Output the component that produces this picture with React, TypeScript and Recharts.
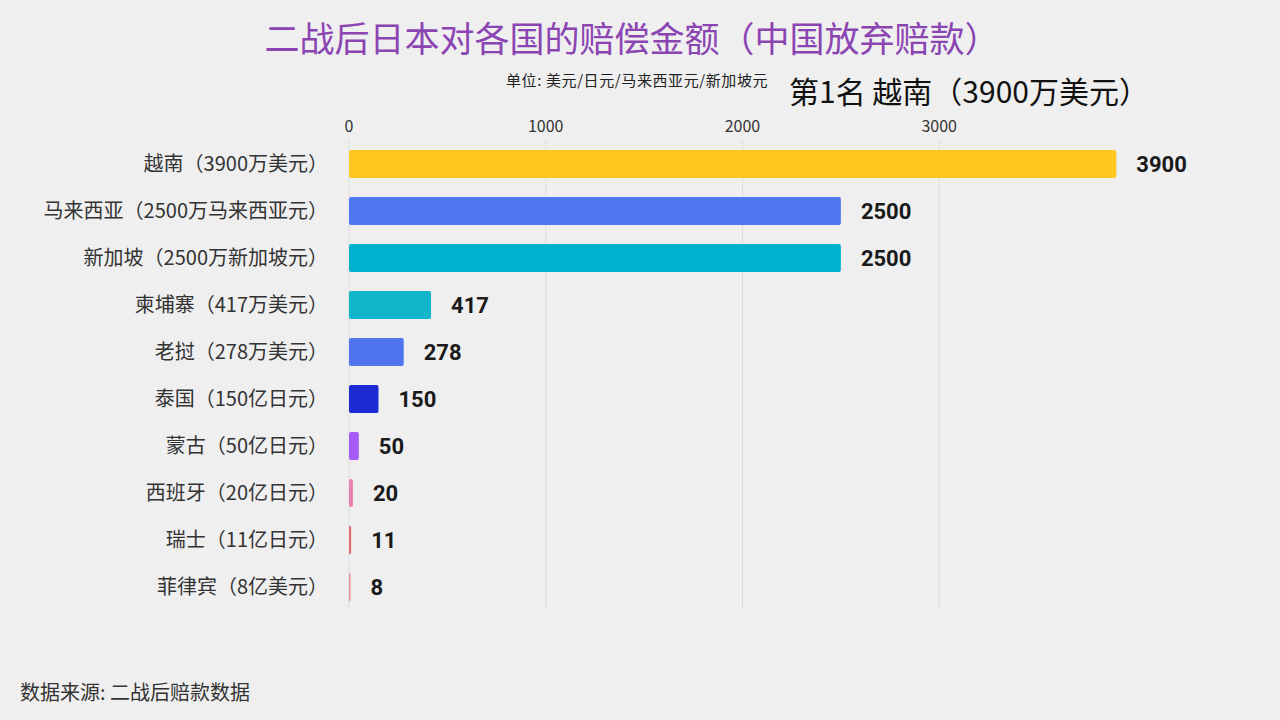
import React from "react";
import { BarChart, Bar, XAxis, YAxis, CartesianGrid, Cell, LabelList } from "recharts";

// Post-war reparations paid by Japan, per recipient country
const countries = [
  "越南（3900万美元）",
  "马来西亚（2500万马来西亚元）",
  "新加坡（2500万新加坡元）",
  "柬埔寨（417万美元）",
  "老挝（278万美元）",
  "泰国（150亿日元）",
  "蒙古（50亿日元）",
  "西班牙（20亿日元）",
  "瑞士（11亿日元）",
  "菲律宾（8亿美元）",
];
const amounts = [3900, 2500, 2500, 417, 278, 150, 50, 20, 11, 8];
const barColors = [
  "#FFC81F",
  "#4F78F0",
  "#00B2CE",
  "#12B6CB",
  "#4E74F0",
  "#1A2BD3",
  "#A65CF6",
  "#E97FB0",
  "#E36F72",
  "#EA929C",
];
const xTicks = [0, 1000, 2000, 3000];
const xDomain: [number, number] = [0, 4000];

const data = countries.map((name, i) => ({ name, value: amounts[i] }));

const FONT = "'Noto Sans CJK SC', 'Noto Sans', sans-serif";

// Vertical grid lines only at the labelled ticks
const gridAtTicks = (props: any) => {
  const scale = props?.xAxis?.scale;
  if (typeof scale === "function") return xTicks.map((t) => scale(t));
  const off = props?.offset ?? { left: 0, width: 0 };
  const [d0, d1] = xDomain;
  return xTicks.map((t) => off.left + ((t - d0) / (d1 - d0)) * off.width);
};

export default function App() {
  return (
    <div
      style={{
        position: "fixed",
        left: 0,
        top: 0,
        width: 1280,
        height: 720,
        background: "#EFEFEF",
        fontFamily: FONT,
        overflow: "hidden",
      }}
    >
      <div
        style={{
          position: "absolute",
          left: 0,
          width: 1264,
          top: 14,
          textAlign: "center",
          fontSize: 35,
          color: "#8B45B3",
          lineHeight: "46px",
        }}
      >
        二战后日本对各国的赔偿金额（中国放弃赔款）
      </div>
      <div
        style={{
          position: "absolute",
          left: 506,
          top: 70,
          fontSize: 15,
          letterSpacing: 0.6,
          color: "#222",
          lineHeight: "20px",
        }}
      >
        单位: 美元/日元/马来西亚元/新加坡元
      </div>
      <div
        style={{
          position: "absolute",
          left: 789,
          top: 70,
          fontSize: 30,
          color: "#111",
          lineHeight: "40px",
        }}
      >
        第1名 越南（3900万美元）
      </div>
      <div
        style={{
          position: "absolute",
          left: 20,
          top: 679,
          fontSize: 20,
          color: "#333",
          lineHeight: "26px",
        }}
      >
        数据来源: 二战后赔款数据
      </div>
      <div style={{ position: "absolute", left: 0, top: 0 }}>
        <BarChart
          width={1280}
          height={720}
          data={data}
          layout="vertical"
          margin={{ top: 110, right: 144, bottom: 110, left: 0 }}
          barSize={28}
        >
          <CartesianGrid
            horizontal={false}
            stroke="#DCDCDC"
            verticalCoordinatesGenerator={gridAtTicks}
          />
          <XAxis
            type="number"
            orientation="top"
            domain={xDomain}
            ticks={xTicks}
            axisLine={false}
            tickLine={false}
            tick={{ fontSize: 16, fill: "#333", fontFamily: FONT }}
            height={30}
          />
          <YAxis
            type="category"
            dataKey="name"
            width={349}
            axisLine={false}
            tickLine={false}
            tickMargin={15}
            interval={0}
            tick={{ fontSize: 20, fill: "#333", fontFamily: FONT }}
          />
          <Bar dataKey="value" isAnimationActive={false} radius={2}>
            {data.map((d, i) => (
              <Cell key={d.name} fill={barColors[i]} />
            ))}
            <LabelList
              dataKey="value"
              position="right"
              offset={20}
              style={{ fontSize: 22, fontWeight: 700, fill: "#1A1A1A", fontFamily: "Roboto, sans-serif" }}
            />
          </Bar>
        </BarChart>
      </div>
    </div>
  );
}
